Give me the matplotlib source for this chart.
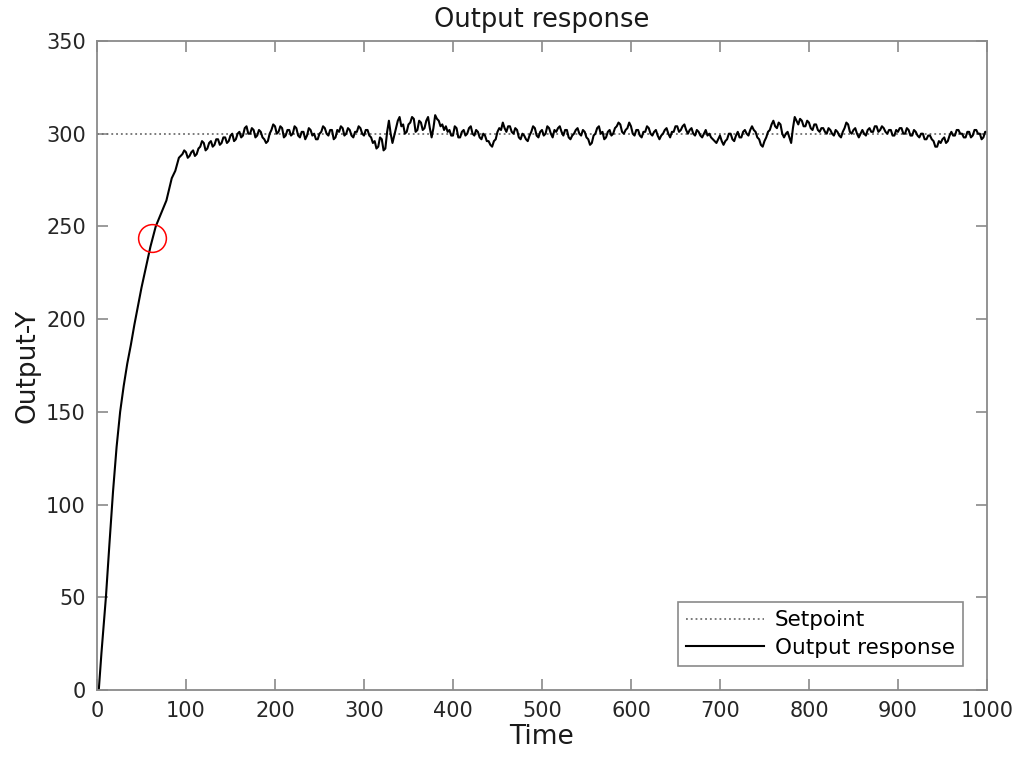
import numpy as np
import matplotlib
matplotlib.use("Agg")
import matplotlib.pyplot as plt

plt.rcParams['font.family'] = ['DejaVu Sans']

setpoint = 300

# rising part of the response
rise_t = [0, 2, 5, 10, 14, 18, 22, 26, 30, 34, 38, 42, 46, 50, 55, 60, 66, 72, 78, 84, 88, 92]
rise_y = [0, 0, 20, 50, 79, 107, 131, 150, 164, 176, 186, 197, 207, 217, 228, 239, 250, 257, 264, 276, 280, 287]

# settled part, one value every 2 time units from t=96
steady_y = [
    289, 291, 290, 287, 288, 290, 291, 288, 289, 292, 293, 296, 295, 291, 292, 295, 296, 293, 294, 297,
    297, 294, 295, 298, 298, 295, 296, 299, 300, 296, 297, 300, 301, 298, 299, 303, 304, 300, 300, 303,
    302, 298, 299, 302, 301, 298, 297, 295, 296, 300, 302, 305, 304, 300, 301, 304, 303, 298, 299, 302,
    302, 299, 300, 304, 303, 299, 298, 301, 301, 297, 299, 303, 302, 299, 300, 297, 297, 300, 301, 304,
    303, 300, 299, 302, 302, 297, 298, 302, 301, 304, 303, 299, 300, 303, 302, 299, 298, 301, 301, 304,
    303, 300, 299, 302, 302, 299, 298, 295, 296, 292, 293, 298, 297, 291, 292, 301, 307, 300, 295, 299,
    303, 307, 309, 304, 305, 300, 301, 305, 306, 309, 308, 301, 302, 307, 306, 302, 303, 307, 309, 303,
    298, 303, 310, 308, 307, 304, 305, 302, 304, 301, 302, 299, 299, 304, 303, 298, 298, 301, 302, 299,
    300, 303, 304, 300, 299, 302, 301, 298, 297, 300, 299, 296, 296, 294, 293, 296, 297, 301, 303, 302,
    306, 303, 301, 304, 304, 301, 300, 303, 302, 298, 297, 300, 299, 297, 296, 299, 301, 304, 303, 299,
    298, 301, 302, 299, 300, 304, 303, 300, 298, 302, 301, 303, 304, 301, 299, 302, 302, 298, 297, 299,
    300, 302, 303, 300, 299, 302, 301, 298, 297, 294, 295, 299, 300, 303, 304, 300, 301, 297, 298, 301,
    302, 299, 300, 303, 304, 306, 305, 301, 300, 302, 303, 306, 304, 300, 299, 302, 302, 299, 298, 301,
    301, 304, 303, 300, 299, 301, 302, 299, 297, 299, 300, 302, 303, 300, 298, 301, 301, 304, 304, 301,
    302, 304, 305, 302, 300, 302, 303, 300, 299, 302, 301, 299, 298, 300, 302, 299, 300, 298, 297, 296,
    295, 297, 299, 296, 294, 296, 297, 300, 300, 297, 296, 299, 301, 298, 298, 301, 302, 300, 299, 302,
    304, 302, 301, 298, 297, 294, 293, 296, 298, 301, 302, 305, 307, 304, 303, 306, 305, 300, 298, 300,
    301, 298, 295, 303, 309, 307, 305, 308, 307, 304, 304, 307, 306, 303, 302, 305, 305, 302, 301, 303,
    303, 301, 300, 303, 302, 300, 299, 302, 301, 299, 298, 301, 303, 306, 305, 301, 300, 302, 303, 300,
    298, 300, 302, 300, 299, 302, 303, 301, 301, 304, 304, 301, 302, 304, 303, 301, 300, 302, 302, 299,
    299, 302, 301, 303, 303, 300, 300, 303, 302, 299, 299, 302, 301, 299, 298, 300, 300, 297, 297, 299,
    299, 297, 296, 293, 293, 296, 295, 297, 298, 295, 296, 299, 301, 299, 299, 302, 302, 300, 300, 298,
    298, 301, 301, 298, 299, 302, 302, 300, 300, 297, 298, 301, 301,
]
steady_t = np.arange(96, 96 + 2 * len(steady_y), 2)

time = np.concatenate([rise_t, steady_t])
output = np.concatenate([rise_y, steady_y])

marked_t, marked_y = 62, 244

fig = plt.figure(figsize=(10.2, 7.66), dpi=100)
ax = fig.add_axes([0.0951, 0.0992, 0.8725, 0.8473])

ax.plot([0, 1000], [setpoint, setpoint], linestyle=':', color='#707070', lw=1.3, label='Setpoint')
ax.plot(time, output, color='black', lw=1.5, label='Output response')
ax.plot(marked_t, marked_y, 'o', ms=20, mfc='none', mec='red', mew=1.1)

ax.set_xlim(0, 1000)
ax.set_ylim(0, 350)
ax.set_xticks(range(0, 1001, 100))
ax.set_yticks(range(0, 351, 50))

gray = '#8a8a8a'
for s in ax.spines.values():
    s.set_color(gray)
    s.set_linewidth(1.3)
ax.tick_params(direction='in', length=8, width=1.2, color=gray, labelcolor='#262626',
               labelsize=15, top=True, right=True, pad=8)

ax.set_title('Output response', fontsize=18.5, color='#1a1a1a', pad=10)
ax.set_xlabel('Time', fontsize=19, color='#1a1a1a', labelpad=2)
ax.set_ylabel('Output-Y', fontsize=19, color='#1a1a1a', labelpad=4)

leg = ax.legend(loc='lower right', fontsize=15.5, fancybox=False, framealpha=1,
                edgecolor=gray, borderaxespad=1.1, handlelength=3.6, handletextpad=0.5,
                labelspacing=0.35, borderpad=0.4)
leg.get_frame().set_linewidth(1.2)

fig.savefig('out.png', dpi=100)
